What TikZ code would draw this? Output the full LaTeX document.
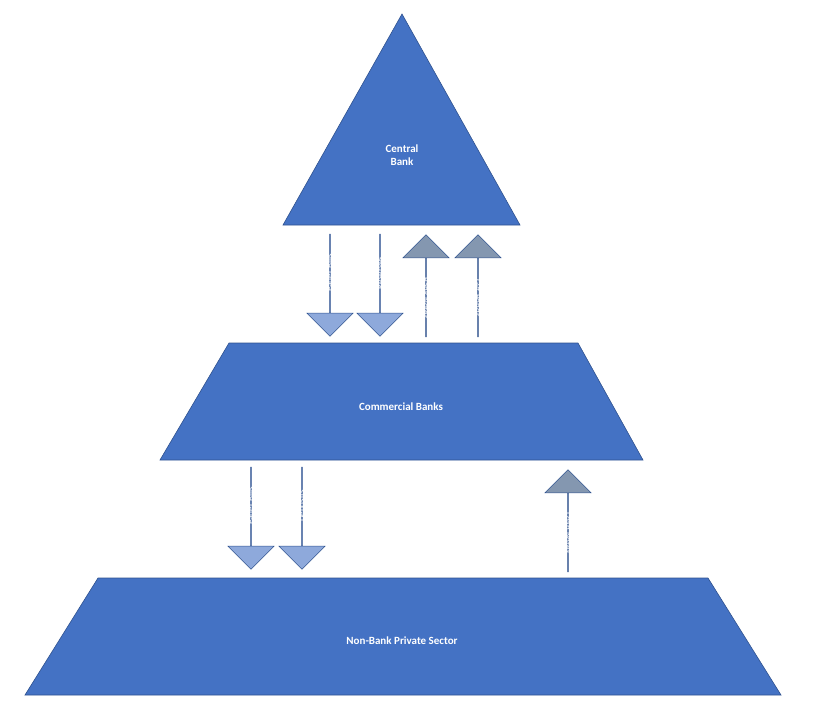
\documentclass[tikz,border=0pt]{standalone}
\usepackage{fontspec}
\setmainfont{Carlito}
\usetikzlibrary{shapes.arrows}
\definecolor{tierblue}{HTML}{4472C4}
\definecolor{tieredge}{HTML}{2F528F}
\definecolor{flowdown}{HTML}{8EA9DB}
\definecolor{flowup}{HTML}{8497B0}
\tikzset{
  tier/.style={fill=tierblue,draw=tieredge,line width=0.6pt},
  tiertext/.style={text=white,font=\bfseries\fontsize{11}{13}\selectfont,align=center},
  flow/.style={single arrow,draw=tieredge,line width=0.5pt,inner xsep=0pt,inner ysep=11pt,
    minimum height=102pt,minimum width=46pt,single arrow head extend=12pt,
    single arrow head indent=0pt},
  down/.style={flow,fill=flowdown,shape border rotate=270},
  up/.style={flow,fill=flowup,shape border rotate=90},
  flowtext/.style={text=white,font=\fontsize{9}{10}\selectfont}
}
\begin{document}
\begin{tikzpicture}[x=1pt,y=-1pt]
  \useasboundingbox (0,0) rectangle (815,721);
  % tiers
  \draw[tier] (402,14) -- (520,225) -- (283,225) -- cycle;
  \node[tiertext] (cb) at (402,155) {Central\\Bank};
  \draw[tier] (229,343) -- (578,343) -- (643,460) -- (160,460) -- cycle;
  \node[tiertext] (banks) at (401,407) {Commercial Banks};
  \draw[tier] (98,578) -- (708,578) -- (781,695) -- (25,695) -- cycle;
  \node[tiertext] (nbps) at (402,641) {Non-Bank Private Sector};
  % flows between central bank and banks
  \node[down] (bills1) at (330,285) {};
  \node[flowtext,rotate=90] at (330,273) {Paper Bills};
  \node[down] (res) at (380,285) {};
  \node[flowtext,rotate=90] at (380,273) {Reserves};
  \node[up] (notes) at (426,286) {};
  \node[flowtext,rotate=-90] at (426,298) {Bank Notes};
  \node[up] (bonds) at (478,286) {};
  \node[flowtext,rotate=-90] at (478,298) {Gvt Bonds};
  % flows between banks and private sector
  \node[down] (bills2) at (251,518) {};
  \node[flowtext,rotate=90] at (251,506) {Paper Bills};
  \node[down] (dep) at (302,518) {};
  \node[flowtext,rotate=90] at (302,506) {Deposits};
  \node[up] (loans) at (568,521) {};
  \node[flowtext,rotate=-90] at (568,533) {Loan Notes};
\end{tikzpicture}
\end{document}
